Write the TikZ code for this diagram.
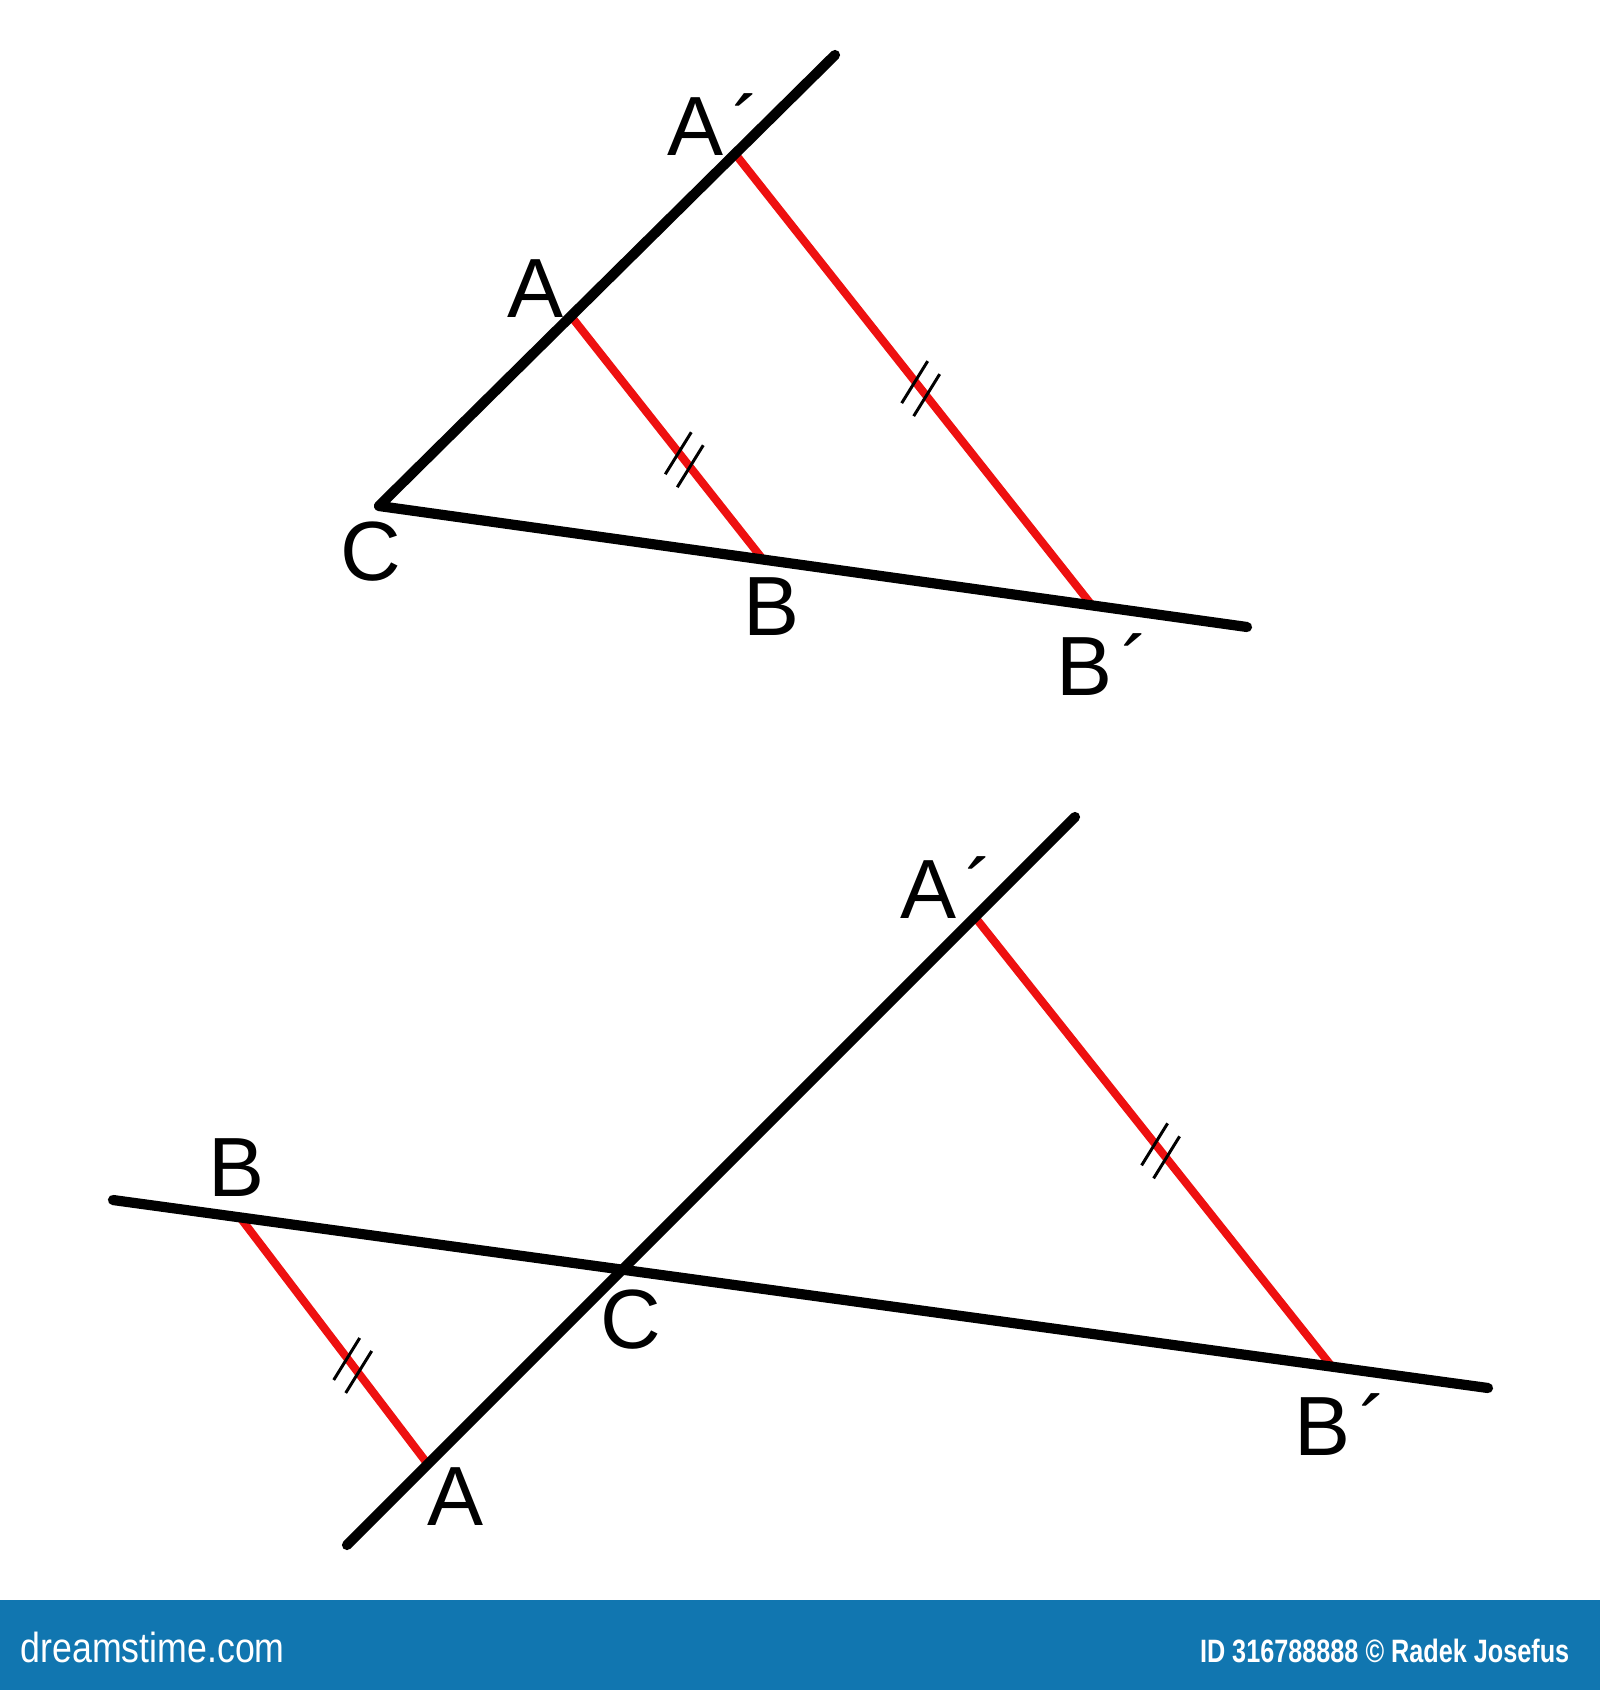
\documentclass[tikz,border=0pt]{standalone}
\usepackage{fontspec}
\setmainfont{Liberation Sans}
\usetikzlibrary{calc}
\definecolor{segred}{RGB}{238,16,16}
\definecolor{band}{RGB}{17,118,176}
\tikzset{
  ray/.style={black, line width=2.9pt, line cap=round, line join=round},
  par/.style={segred, line width=2.3pt},
  hatch/.style={black, line width=0.85pt},
  lbl/.style={font=\fontsize{23.9}{28}\selectfont, inner sep=0pt},
}
\newcommand\hashmarks[3]{%
  \coordinate (hm) at ($(#1)!#3!(#2)$);
  \draw[hatch] ($(hm)+(-19,14.5)$) -- ($(hm)+(7,-27.5)$);
  \draw[hatch] ($(hm)+(-7,27.5)$) -- ($(hm)+(19,-14.5)$);
}
\newcommand\primed[1]{#1\kern0.1em´}
\begin{document}
\begin{tikzpicture}[x=0.01cm,y=-0.01cm]
  \useasboundingbox (0,0) rectangle (1600,1690);
  % upper figure
  \coordinate (C1) at (379,506);
  \coordinate (E1) at (835,55);
  \coordinate (F1) at (1247,627);
  \coordinate (A1) at ($(C1)!0.421!(E1)$);
  \coordinate (Ap1) at ($(C1)!0.781!(E1)$);
  \coordinate (B1) at ($(C1)!0.4424!(F1)$);
  \coordinate (Bp1) at ($(C1)!0.8214!(F1)$);
  \draw[par] (A1) -- (B1);
  \draw[par] (Ap1) -- (Bp1);
  \draw[ray] (E1) -- (C1) -- (F1);
  \hashmarks{A1}{B1}{0.59}
  \hashmarks{Ap1}{Bp1}{0.52}
  \node[lbl, anchor=base west] (lAp1) at (667,155) {\primed{A}};
  \node[lbl] (lA1) at (536,289) {A};
  \node[lbl] (lC1) at (371,552) {C};
  \node[lbl] (lB1) at (772,607) {B};
  \node[lbl, anchor=base west] (lBp1) at (1056,695) {\primed{B}};
  % lower figure
  \coordinate (G2) at (347,1545);
  \coordinate (E2) at (1075,817);
  \coordinate (H2) at (113,1200);
  \coordinate (F2) at (1488,1388);
  \coordinate (C2) at (intersection of G2--E2 and H2--F2);
  \coordinate (A2) at ($(G2)!0.111!(E2)$);
  \coordinate (Ap2) at ($(G2)!0.8626!(E2)$);
  \coordinate (B2) at ($(H2)!0.0924!(F2)$);
  \coordinate (Bp2) at ($(H2)!0.8865!(F2)$);
  \draw[par] (B2) -- (A2);
  \draw[par] (Ap2) -- (Bp2);
  \draw[ray] (G2) -- (E2);
  \draw[ray] (H2) -- (F2);
  \hashmarks{B2}{A2}{0.60}
  \hashmarks{Ap2}{Bp2}{0.52}
  \node[lbl] (lB2) at (237,1168) {B};
  \node[lbl, anchor=base west] (lAp2) at (900,918) {\primed{A}};
  \node[lbl] (lC2) at (631,1320) {C};
  \node[lbl] (lA2) at (456,1497) {A};
  \node[lbl, anchor=base west] (lBp2) at (1294,1455) {\primed{B}};
  % footer band
  \fill[band] (0,1600) rectangle (1600,1690);
  \node[anchor=base west, text=white, inner sep=0pt, font=\fontsize{11.95}{14}\selectfont] (logo) at (20,1662) {\scalebox{0.85}[1]{dreamstime.com}};
  \node[anchor=base east, text=white, inner sep=0pt, font=\fontsize{9.2}{11}\selectfont\bfseries] (credit) at (1570,1662) {\scalebox{0.78}[1]{ID 316788888 © Radek Josefus}};
\end{tikzpicture}
\end{document}
